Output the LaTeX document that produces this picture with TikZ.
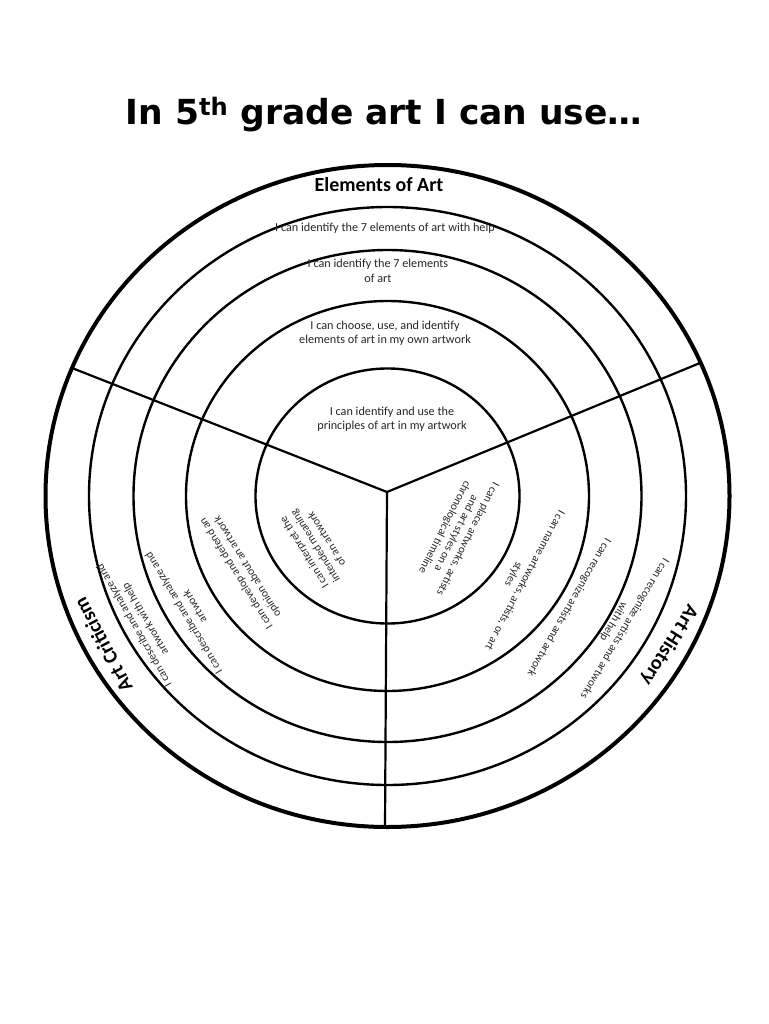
\documentclass[tikz,border=0pt]{standalone}
\usepackage{fontspec}
\setmainfont{Carlito}
\newfontfamily\titlefont{DejaVu Sans}
\begin{document}
\begin{tikzpicture}[x=1pt,y=-1pt,
  ring/.style={line width=2.4pt},
  small/.style={font=\fontsize{12.2}{14.5}\selectfont,align=center,inner sep=0pt,text=black!85},
  rsmall/.style={font=\fontsize{11.3}{13}\selectfont,align=center,inner sep=0pt,text=black!85},
  big/.style={font=\fontsize{20}{24}\selectfont\bfseries,inner sep=0pt}]
\useasboundingbox (0,0) rectangle (768,1024);
\node[font=\titlefont\fontsize{34.5}{40}\selectfont\bfseries] (title) at (384,115) {In 5\textsuperscript{th} grade art I can use\ldots};
\coordinate (c) at (387.5,496);
\draw[ring] (c) ellipse [x radius=132,y radius=127.5];
\draw[ring] (c) ellipse [x radius=201.5,y radius=195];
\draw[ring] (c) ellipse [x radius=254,y radius=246];
\draw[ring] (c) ellipse [x radius=298.5,y radius=289];
\draw[line width=4pt] (c) ellipse [x radius=342,y radius=331];
\coordinate (v) at (387,492);
\coordinate (l) at (72,368);
\coordinate (r) at (700,363);
\coordinate (b) at (385,827);
\draw[line width=2.2pt,line join=miter] (l) -- (v) -- (r);
\draw[line width=2.2pt] (v) -- (b);
\node[big] (ea) at (379,185) {Elements of Art};
\node[small] (t4) at (385,228) {I can identify the 7 elements of art with help};
\node[small] (t3) at (378,271) {I can identify the 7 elements\\of art};
\node[small] (t2) at (385,333) {I can choose, use, and identify\\elements of art in my own artwork};
\node[small] (t1) at (392,419) {I can identify and use the\\principles of art in my artwork};
\node[rsmall,rotate=122] (l1) at (315,546) {I can interpret the\\intended meaning\\of an artwork};
\node[rsmall,rotate=122] (l2) at (242,570) {I can develop and defend an\\opinion about an artwork};
\node[rsmall,rotate=121] (l3) at (189,610) {I can describe and analyze and\\artwork};
\node[rsmall,rotate=120] (l4) at (140,622) {I can describe and analyze and\\artwork with help};
\node[big,rotate=118] (ac) at (103,645) {Art Criticism};
\node[rsmall,rotate=-117] (r1) at (456,533) {I can place artworks, artists\\and art styles on a\\chronological timeline};
\node[rsmall,rotate=-118] (r2) at (519,577) {I can name artworks, artists, or art\\styles};
\node[rsmall,rotate=-120] (r3) at (569,607) {I can recognize artists and artwork};
\node[rsmall,rotate=-121] (r4) at (619,625) {I can recognize artists and artworks\\with help};
\node[big,rotate=-122] (ah) at (669,645) {Art History};
\end{tikzpicture}
\end{document}
